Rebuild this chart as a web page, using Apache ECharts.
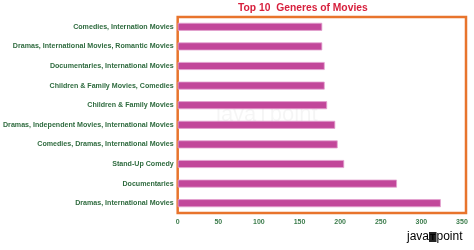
<!DOCTYPE html>
<html>
<head>
<meta charset="utf-8">
<script src="https://cdn.jsdelivr.net/npm/echarts@6/dist/echarts.min.js"></script>
<style>
  html, body { margin: 0; padding: 0; background: #fff; }
  #chart { width: 474px; height: 250px; }
</style>
</head>
<body>
<div id="chart"></div>
<script>
// categories listed bottom -> top (ECharts category axis starts at the bottom)
const genres = [
  'Dramas, International Movies',
  'Documentaries',
  'Stand-Up Comedy',
  'Comedies, Dramas, International Movies',
  'Dramas, Independent Movies, International Movies',
  'Children & Family Movies',
  'Children & Family Movies, Comedies',
  'Documentaries, International Movies',
  'Dramas, International Movies, Romantic Movies',
  'Comedies, Internation Movies'
]
const counts = [324, 270, 205, 197, 194, 184, 181, 181, 178, 178]
const xTicks = [0, 50, 100, 150, 200, 250, 300, 350]

const GREEN = '#2f6b3f'
const chart = echarts.init(document.getElementById('chart'))

const option = {
  backgroundColor: '#fff',
  animation: false,
  title: {
    text: 'Top 10  Generes of Movies',
    left: 238,
    top: 3,
    padding: 0,
    textStyle: {
      color: '#d71f3c',
      fontSize: 10.3,
      fontWeight: 'bold',
      fontFamily: 'Liberation Sans'
    }
  },
  grid: {
    left: 177,
    right: 8,
    top: 17,
    bottom: 37,
    show: true,
    borderColor: '#e8742c',
    borderWidth: 2.5,
    containLabel: false
  },
  xAxis: {
    type: 'value',
    min: 0,
    max: 355,
    interval: 50,
    splitLine: { show: false },
    axisLine: { show: false },
    axisTick: { show: false },
    axisLabel: {
      color: '#3d7d4d',
      fontSize: 7,
      fontWeight: 'bold',
      fontFamily: 'Liberation Sans',
      margin: 6,
      showMaxLabel: false,
      formatter: v => (xTicks.includes(v) ? String(v) : '')
    }
  },
  yAxis: {
    type: 'category',
    data: genres,
    axisLine: { show: false },
    axisTick: { show: false },
    axisLabel: {
      color: GREEN,
      fontSize: 7.1,
      fontWeight: 'bold',
      fontFamily: 'Liberation Sans',
      margin: 4
    }
  },
  graphic: [
    {
      type: 'text',
      left: 216,
      top: 104,
      z: -1,
      style: {
        text: 'javaTpoint',
        fontSize: 22,
        fontFamily: 'Liberation Sans',
        fill: 'rgba(0,0,0,0.04)'
      }
    },
    {
      type: 'text',
      left: 407,
      top: 231,
      style: {
        text: '{a|java}{t|T}{a|point}',
        rich: {
          a: { fontSize: 12, fontFamily: 'Liberation Sans', color: '#222' },
          t: {
            fontSize: 9, fontWeight: 'bold', fontFamily: 'Liberation Sans',
            color: '#fff', backgroundColor: '#222', padding: [1, 1, 0, 1]
          }
        }
      }
    }
  ],
  series: [
    {
      type: 'bar',
      data: counts,
      barWidth: 8,
      itemStyle: {
        color: '#c2479a',
        borderColor: '#e3a2cf',
        borderWidth: 0.8
      }
    }
  ]
}
chart.setOption(option)
</script>
</body>
</html>
